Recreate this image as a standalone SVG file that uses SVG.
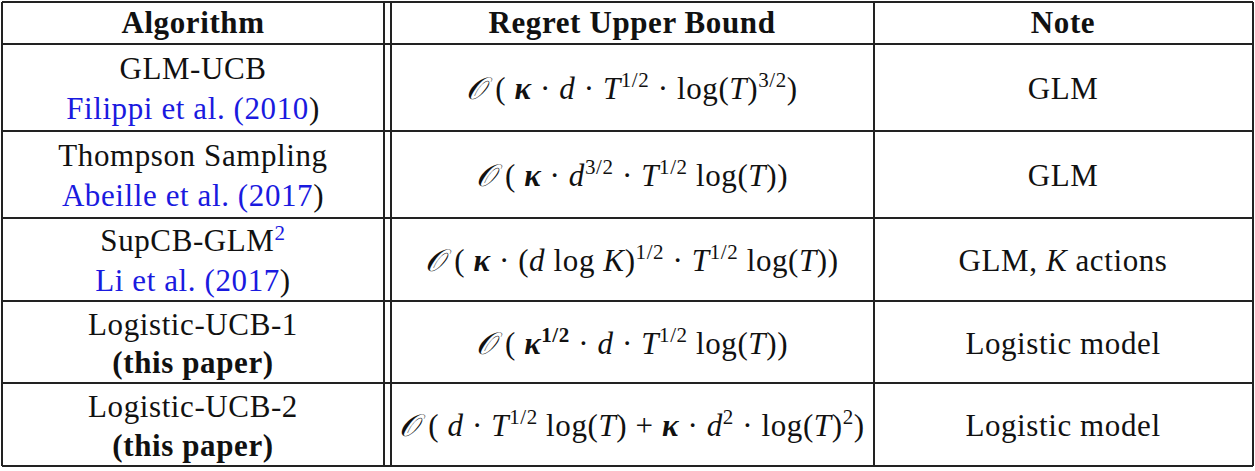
<svg xmlns="http://www.w3.org/2000/svg" width="1255" height="471" viewBox="0 0 1255 471">
<style>
text{font-family:"Liberation Serif","DejaVu Serif",serif;font-size:31px;fill:#111;text-anchor:middle;letter-spacing:0.6px}
.b{font-weight:bold}
.l{fill:#1a1adf}
.i{font-style:italic}
.s{font-size:21px}
line{stroke:#222;stroke-width:2}
</style>
<g id="grid">
<line x1="2" y1="2" x2="1253" y2="2"/><line x1="2" y1="44" x2="1253" y2="44"/>
<line x1="2" y1="131" x2="1253" y2="131"/><line x1="2" y1="218" x2="1253" y2="218"/>
<line x1="2" y1="301" x2="1253" y2="301"/><line x1="2" y1="383" x2="1253" y2="383"/>
<line x1="2" y1="466" x2="1253" y2="466"/>
<line x1="2" y1="2" x2="2" y2="466"/><line x1="384" y1="2" x2="384" y2="466"/>
<line x1="391" y1="2" x2="391" y2="466"/><line x1="874" y1="2" x2="874" y2="466"/>
<line x1="1253" y1="2" x2="1253" y2="466"/>
</g>
<g id="header">
<text class="b" x="193" y="33">Algorithm</text>
<text class="b" x="632" y="33">Regret Upper Bound</text>
<text class="b" x="1063" y="33">Note</text>
</g>
<g id="r1">
<text x="193" y="79">GLM-UCB</text>
<text x="193" y="119"><tspan class="l">Filippi et al. (</tspan><tspan class="l">2010</tspan>)</text>
<text x="632" y="99"><tspan class="i">𝒪</tspan> ( <tspan class="b i">κ</tspan> · <tspan class="i">d</tspan> · <tspan class="i">T</tspan><tspan class="s" dy="-12">1/2</tspan><tspan dy="12"> · log(</tspan><tspan class="i">T</tspan>)<tspan class="s" dy="-12">3/2</tspan><tspan dy="12">)</tspan></text>
<text x="1063" y="99">GLM</text>
</g>
<g id="r2">
<text x="193" y="166">Thompson Sampling</text>
<text x="193" y="206"><tspan class="l">Abeille et al. (2017</tspan>)</text>
<text x="632" y="186"><tspan class="i">𝒪</tspan> ( <tspan class="b i">κ</tspan> · <tspan class="i">d</tspan><tspan class="s" dy="-12">3/2</tspan><tspan dy="12"> · </tspan><tspan class="i">T</tspan><tspan class="s" dy="-12">1/2</tspan><tspan dy="12"> log(</tspan><tspan class="i">T</tspan>))</text>
<text x="1063" y="186">GLM</text>
</g>
<g id="r3">
<text x="193" y="251">SupCB-GLM<tspan class="s l" dy="-11">2</tspan></text>
<text x="193" y="291"><tspan class="l">Li et al. (2017</tspan>)</text>
<text x="632" y="271"><tspan class="i">𝒪</tspan> ( <tspan class="b i">κ</tspan> · (<tspan class="i">d</tspan> log <tspan class="i">K</tspan>)<tspan class="s" dy="-12">1/2</tspan><tspan dy="12"> · </tspan><tspan class="i">T</tspan><tspan class="s" dy="-12">1/2</tspan><tspan dy="12"> log(</tspan><tspan class="i">T</tspan>))</text>
<text x="1063" y="271">GLM, <tspan class="i">K</tspan> actions</text>
</g>
<g id="r4">
<text x="193" y="335">Logistic-UCB-1</text>
<text class="b" x="193" y="373">(this paper)</text>
<text x="632" y="354"><tspan class="i">𝒪</tspan> ( <tspan class="b i">κ</tspan><tspan class="s b" dy="-12">1/2</tspan><tspan dy="12"> · </tspan><tspan class="i">d</tspan> · <tspan class="i">T</tspan><tspan class="s" dy="-12">1/2</tspan><tspan dy="12"> log(</tspan><tspan class="i">T</tspan>))</text>
<text x="1063" y="354">Logistic model</text>
</g>
<g id="r5">
<text x="193" y="417">Logistic-UCB-2</text>
<text class="b" x="193" y="456">(this paper)</text>
<text x="632" y="436"><tspan class="i">𝒪</tspan> ( <tspan class="i">d</tspan> · <tspan class="i">T</tspan><tspan class="s" dy="-12">1/2</tspan><tspan dy="12"> log(</tspan><tspan class="i">T</tspan>) + <tspan class="b i">κ</tspan> · <tspan class="i">d</tspan><tspan class="s" dy="-12">2</tspan><tspan dy="12"> · log(</tspan><tspan class="i">T</tspan>)<tspan class="s" dy="-12">2</tspan><tspan dy="12">)</tspan></text>
<text x="1063" y="436">Logistic model</text>
</g>
</svg>
